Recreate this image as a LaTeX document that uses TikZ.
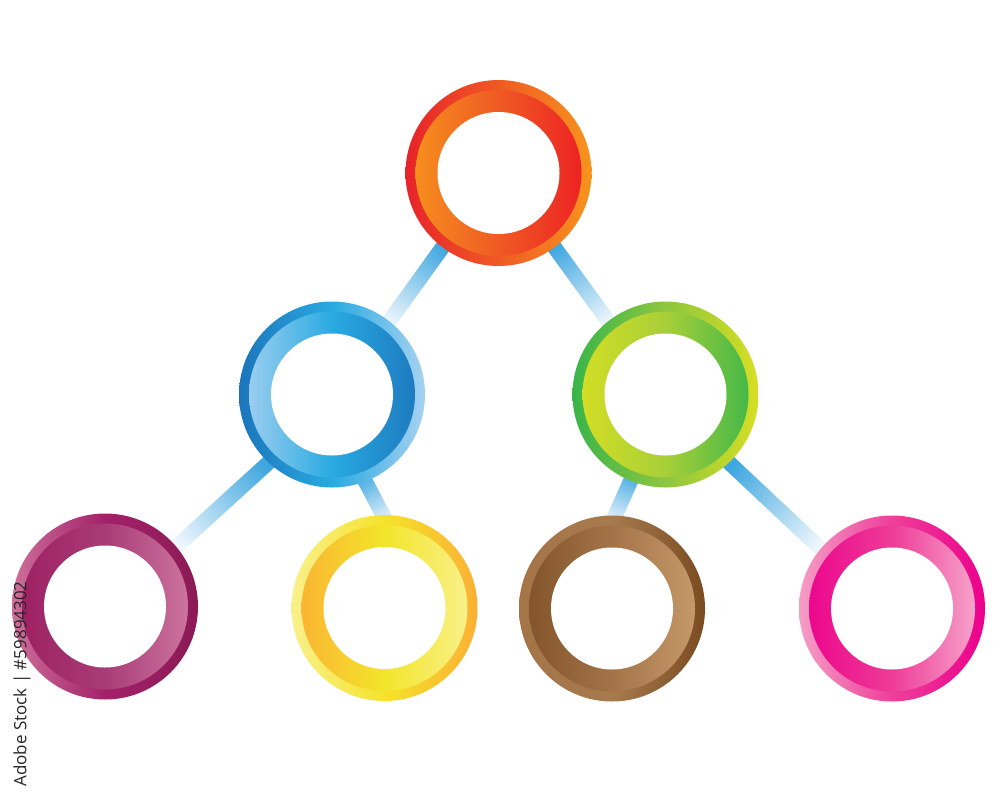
\documentclass[tikz,border=0pt]{standalone}
\usepackage{fontspec}
\newfontfamily\wmfont{Open Sans}
\usetikzlibrary{calc}
\pgfdeclarelayer{bg}
\pgfsetlayers{bg,main}
\definecolor{cdark}{HTML}{3FA7E0}
\definecolor{clight}{HTML}{EEF6FC}
% red / orange
\definecolor{rA}{HTML}{E8232A}\definecolor{rB}{HTML}{EF5A24}\definecolor{rC}{HTML}{F7941D}\definecolor{rD}{HTML}{ED1C24}
% blue
\definecolor{bA}{HTML}{1C75BC}\definecolor{bB}{HTML}{29AAE1}\definecolor{bC}{HTML}{A7D2F1}
% green
\definecolor{gA}{HTML}{39B54A}\definecolor{gB}{HTML}{8DC63F}\definecolor{gC}{HTML}{D7DF23}\definecolor{gD}{HTML}{A8CF38}
% purple
\definecolor{pA}{HTML}{CD6F9A}\definecolor{pB}{HTML}{A3216A}\definecolor{pC}{HTML}{8B1A55}\definecolor{pD}{HTML}{9C1E62}\definecolor{pE}{HTML}{A83C76}\definecolor{pF}{HTML}{D07AA3}
% yellow
\definecolor{yA}{HTML}{F9F08C}\definecolor{yB}{HTML}{F5E32A}\definecolor{yC}{HTML}{FBB034}\definecolor{yD}{HTML}{F3E52A}\definecolor{yE}{HTML}{F9F295}
% brown
\definecolor{nA}{HTML}{A57447}\definecolor{nB}{HTML}{A67B4E}\definecolor{nC}{HTML}{7B4B22}\definecolor{nD}{HTML}{7F5128}\definecolor{nE}{HTML}{A47448}\definecolor{nF}{HTML}{C99D6E}
% pink
\definecolor{kA}{HTML}{F59DC5}\definecolor{kB}{HTML}{EE3F9A}\definecolor{kC}{HTML}{EC008C}\definecolor{kD}{HTML}{EE3C98}\definecolor{kE}{HTML}{F7AED0}
\tikzset{
  ring/.style n args={6}{circle, minimum size=186pt, inner sep=0pt,
    left color=#1, right color=#3, middle color=#2,
    path picture={
      \shade[left color=#4, right color=#6, middle color=#5]
        (path picture bounding box.center) circle[radius=83pt];
      \fill[white] (path picture bounding box.center) circle[radius=61pt];
    }},
}
% #1 id, #2 start point, #3 end point, #4 shading angle
\newcommand{\connbar}[4]{%
  \path ($#2!-12pt!#3$) coordinate (#1-s) ($#3!-12pt!#2$) coordinate (#1-e);
  \shade[top color=cdark, bottom color=clight, shading angle=#4]
    ($(#1-s)!7.5pt!90:(#1-e)$) -- ($(#1-s)!7.5pt!-90:(#1-e)$) --
    ($(#1-e)!7.5pt!90:(#1-s)$) -- ($(#1-e)!7.5pt!-90:(#1-s)$) -- cycle;}
\begin{document}
\begin{tikzpicture}[x=1pt,y=-1pt]
\begin{pgfonlayer}{bg}
\fill[white] (0,0) rectangle (1000,800);
\end{pgfonlayer}
\useasboundingbox (0,0) rectangle (1000,800);
% rings
\node[ring={rA}{rB}{rC}{rC}{rB}{rD}] (top) at (498.5,173) {};
\node[ring={bA}{bB}{bC}{bC}{bB}{bA}] (blue) at (332,394.5) {};
\node[ring={gA}{gB}{gC}{gC}{gD}{gA}] (green) at (665.5,394.5) {};
\node[ring={pA}{pB}{pC}{pD}{pE}{pF}] (purple) at (105,606.5) {};
\node[ring={yA}{yB}{yC}{yC}{yD}{yE}] (yellow) at (384.5,608) {};
\node[ring={nA}{nB}{nC}{nD}{nE}{nF}] (brown) at (612,608.5) {};
\node[ring={kA}{kB}{kC}{kC}{kD}{kE}] (pink) at (892,608.5) {};
% connectors
\begin{pgfonlayer}{bg}
\connbar{c1}{(top.-127)}{(blue.52)}{-36.9}
\connbar{c2}{(top.-53)}{(green.128)}{37.2}
\connbar{c3}{(blue.-133)}{(purple.40)}{-46.8}
\connbar{c4}{(blue.-69)}{(yellow.91)}{29.8}
\connbar{c5}{(green.-112)}{(brown.88)}{-23.2}
\connbar{c6}{(green.-47)}{(pink.140)}{46.6}
\end{pgfonlayer}
% stock label
\node[rotate=90, text=black!85, font=\wmfont\fontsize{17}{19}\selectfont, inner sep=0pt] (wm) at (22,684) {Adobe Stock | \#59894302};
\end{tikzpicture}
\end{document}
